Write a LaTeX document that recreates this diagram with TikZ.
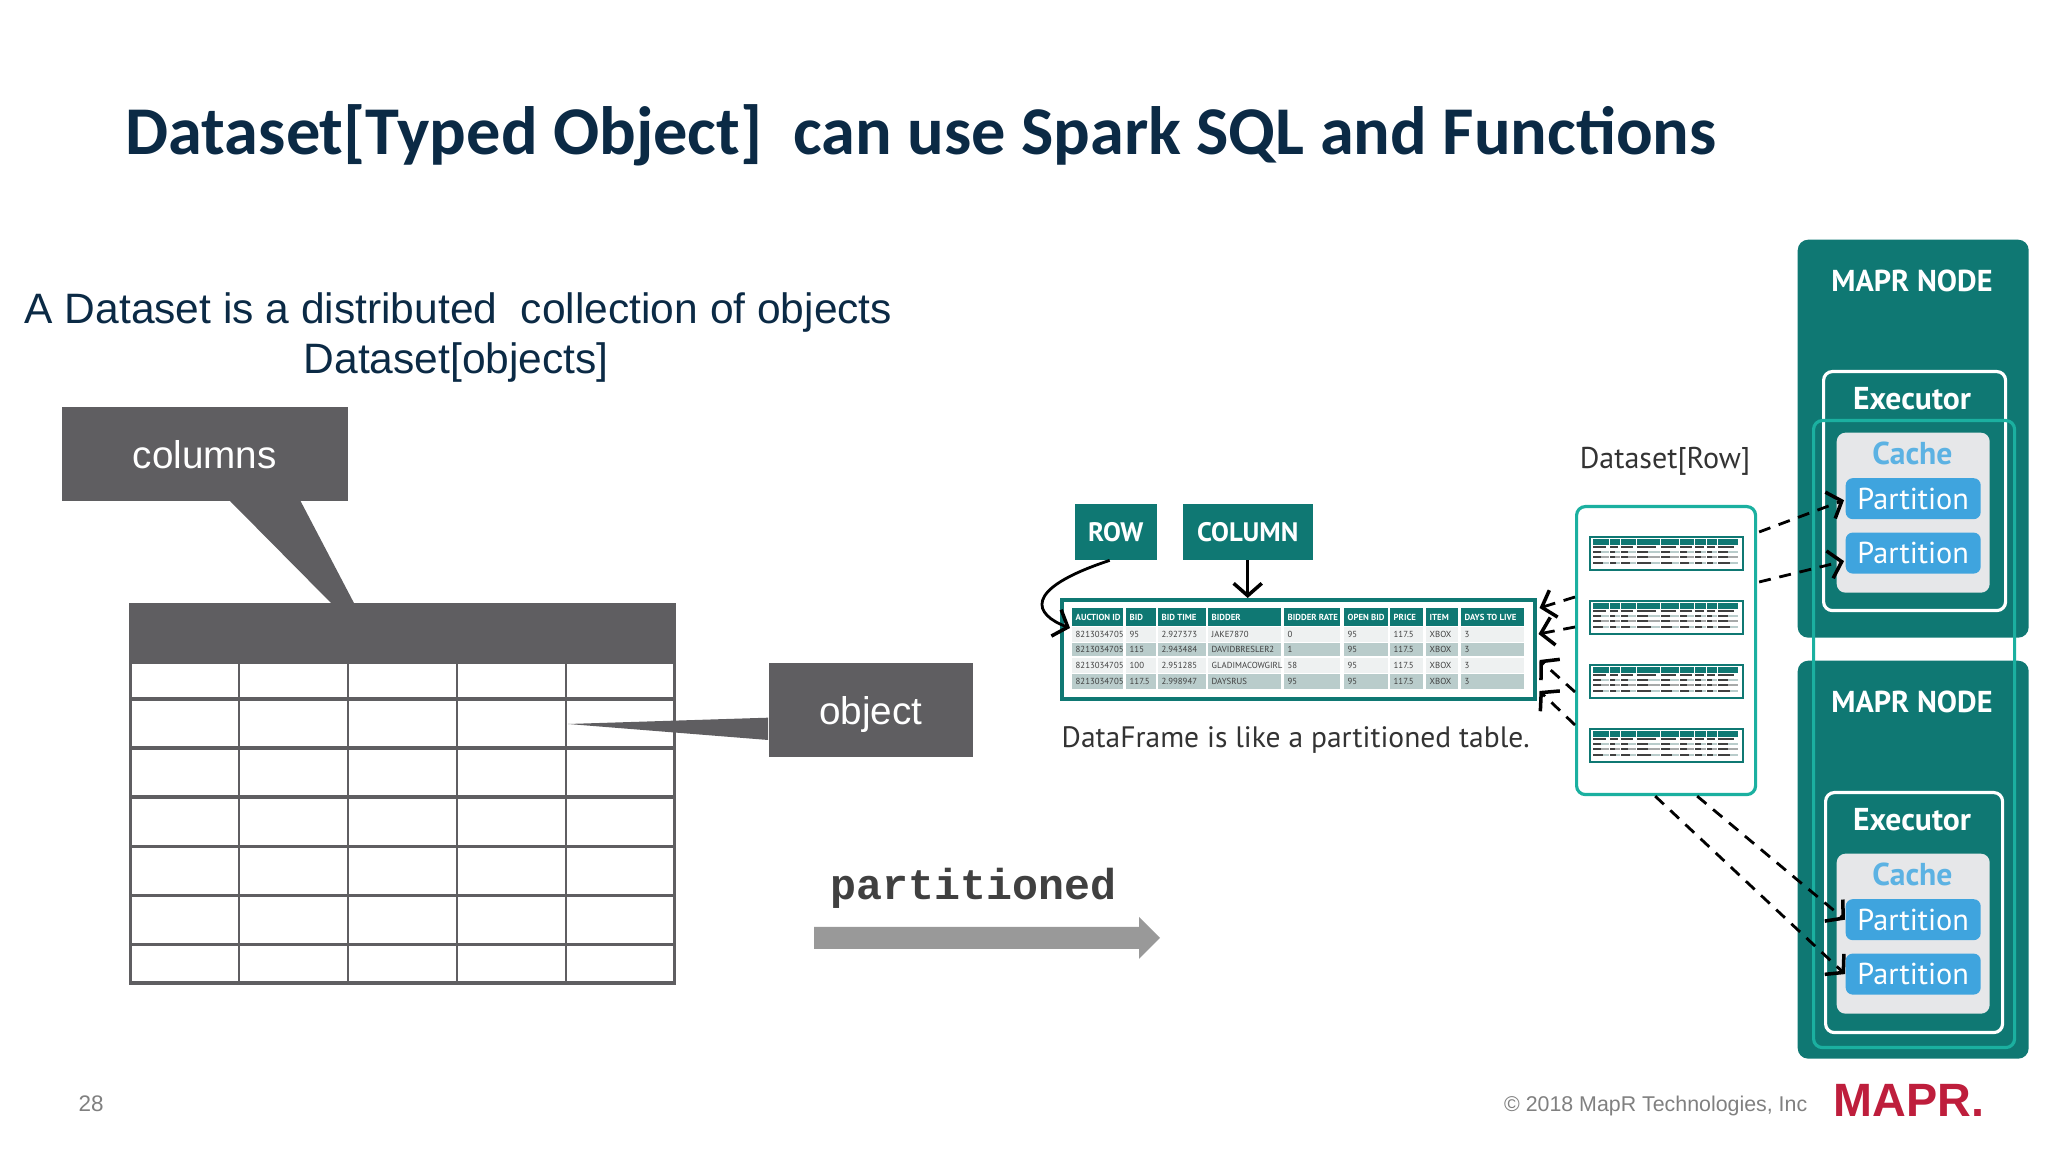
\documentclass[tikz,border=0pt]{standalone}
\usepackage{fontspec}
\setmainfont{Liberation Sans}
\newfontfamily\titlefont{Carlito}
\newfontfamily\dinfont{PT Sans}
\newfontfamily\partfont{Liberation Mono}
\usepackage{tikz}
\usetikzlibrary{arrows.meta, positioning}
\usepackage{xcolor}
\definecolor{navy}{HTML}{0B2A45}
\definecolor{slate}{HTML}{5F5E61}
\definecolor{nodeteal}{HTML}{0F7873}
\definecolor{lightteal}{HTML}{1BB0A0}
\definecolor{cachegray}{HTML}{E6E7E9}
\definecolor{partblue}{HTML}{3FA4DE}
\definecolor{rowlight}{HTML}{EEF1F1}
\definecolor{rowdark}{HTML}{B9CCCB}
\definecolor{mapred}{HTML}{BE1E3C}

\begin{document}
\begin{tikzpicture}[
    x=1cm, y=-1cm,
    callout/.style={rectangle, fill=slate, text=white, inner sep=0pt,
                    anchor=north west, font=\fontsize{11}{13}\selectfont},
    tag/.style={rectangle, fill=nodeteal, text=white, inner sep=0pt,
                minimum height=0.56cm, anchor=north west,
                font=\dinfont\bfseries\fontsize{7.6}{9}\selectfont},
    nodebox/.style={rectangle, fill=nodeteal, rounded corners=3pt, inner sep=0pt,
                    anchor=north west, minimum width=2.31cm},
    execbox/.style={rectangle, draw=white, line width=0.9pt, rounded corners=2.5pt,
                    inner sep=0pt, anchor=north west},
    cachebox/.style={rectangle, fill=cachegray, rounded corners=2.5pt, inner sep=0pt,
                     anchor=north west, minimum width=1.53cm, minimum height=1.60cm},
    partbox/.style={rectangle, fill=partblue, text=white, rounded corners=2pt,
                    inner sep=0pt, minimum width=1.35cm, minimum height=0.41cm,
                    font=\dinfont\fontsize{8.6}{10}\selectfont},
    nodetxt/.style={text=white, font=\dinfont\bfseries\fontsize{8.6}{10}\selectfont},
    cachetxt/.style={text=partblue!85!white, font=\dinfont\bfseries\fontsize{9}{10}\selectfont},
    frame/.style={rectangle, draw=lightteal, line width=0.9pt, rounded corners=2.5pt,
                  inner sep=0pt, anchor=north west},
    dfbox/.style={rectangle, draw=nodeteal, line width=1pt, inner sep=0pt, anchor=north west},
    minibox/.style={rectangle, draw=nodeteal, line width=0.6pt, fill=white, inner sep=0pt,
                    anchor=north west, minimum width=1.53cm, minimum height=0.33cm},
    hdtxt/.style={text=white, inner sep=0pt, anchor=west,
                  font=\dinfont\bfseries\fontsize{2.5}{3}\selectfont},
    celltxt/.style={text=black!75, inner sep=0pt, anchor=west,
                    font=\dinfont\fontsize{2.5}{3}\selectfont},
    arr/.style={-{Straight Barb[length=3.5pt, width=8pt, line width=1pt]}, line width=0.8pt},
    dasharr/.style={arr, dash pattern=on 3.4pt off 2.5pt},
  ]
    \useasboundingbox (0,0) rectangle (20.48,11.53);

    \node[anchor=base west, inner sep=0pt, text=navy,
          font=\titlefont\bfseries\fontsize{19.45}{22}\selectfont] (title) at (1.25,1.55)
      {Dataset[Typed Object]\ \ can use Spark SQL and Functions};
    \node[anchor=base west, inner sep=0pt, text=navy,
          font=\fontsize{12.1}{15}\selectfont] (intro) at (0.24,3.24)
      {A Dataset is a distributed\ \ collection of objects};
    \node[anchor=base west, inner sep=0pt, text=navy,
          font=\fontsize{12.1}{15}\selectfont] (introb) at (3.03,3.74)
      {Dataset[objects]};

    % Grid with its two callouts
    \fill[slate] (1.295,6.05) rectangle (6.755,6.64);
    \draw[slate, line width=0.9pt] (1.305,6.05) rectangle (6.745,9.83);
    \foreach \gx in {2.39,3.48,4.57,5.66}
      \draw[slate, line width=0.8pt] (\gx,6.64) -- (\gx,9.83);
    \foreach \gy in {6.99,7.48,7.97,8.465,8.955,9.445}
      \draw[slate, line width=0.9pt] (1.305,\gy) -- (6.745,\gy);

    \fill[slate] (2.29,5.00) -- (3.00,5.00) -- (3.55,6.05) -- (3.33,6.05) -- cycle;
    \node[callout, minimum width=2.86cm, minimum height=0.935cm] (columns) at (0.61,4.065)
      {\raisebox{-0.145cm}[0pt][0pt]{columns}};
    \fill[slate] (7.68,7.177) -- (5.68,7.24) -- (7.68,7.40) -- cycle;
    \node[callout, minimum width=2.04cm, minimum height=0.935cm] (object) at (7.68,6.627)
      {\raisebox{-0.145cm}[0pt][0pt]{object}};

    \node[anchor=base west, inner sep=0pt, text=black!75,
          font=\partfont\bfseries\fontsize{12.3}{14}\selectfont] (parted) at (8.30,9.00) {partitioned};
    \fill[black!40] (8.14,9.27) -- (11.39,9.27) -- (11.39,9.17) -- (11.60,9.38)
      -- (11.39,9.59) -- (11.39,9.49) -- (8.14,9.49) -- cycle;

    % DataFrame table
    \node[tag, minimum width=0.82cm] (row) at (10.74,5.03) {ROW};
    \node[tag, minimum width=1.30cm] (column) at (11.82,5.03) {COLUMN};
    \node[dfbox, minimum width=4.73cm, minimum height=0.99cm] (df) at (10.60,5.98) {};
    \foreach \cx/\cw/\hd/\ra/\rb/\rc/\rd [count=\ci] in {
        10.72/0.507/AUCTION ID/8213034705/8213034705/8213034705/8213034705,
        11.26/0.297/BID/95/115/100/117.5,
        11.58/0.475/BID TIME/2.927373/2.943484/2.951285/2.998947,
        12.08/0.732/BIDDER/JAKE7870/DAVIDBRESLER2/GLADIMACOWGIRL/DAYSRUS,
        12.84/0.564/BIDDER RATE/0/1/58/95,
        13.44/0.435/OPEN BID/95/95/95/95,
        13.90/0.332/PRICE/117.5/117.5/117.5/117.5,
        14.26/0.319/ITEM/XBOX/XBOX/XBOX/XBOX,
        14.61/0.629/DAYS TO LIVE/3/3/3/3} {
      \fill[nodeteal] (\cx,6.083) rectangle ++(\cw,0.174);
      \fill[rowlight] (\cx,6.267) rectangle ++(\cw,0.15);
      \fill[rowdark]  (\cx,6.43) rectangle ++(\cw,0.127);
      \fill[rowlight] (\cx,6.58) rectangle ++(\cw,0.147);
      \fill[rowdark]  (\cx,6.743) rectangle ++(\cw,0.147);
      \node[hdtxt] (hd\ci) at (\cx+0.03,6.17) {\hd};
      \node[celltxt] (ra\ci) at (\cx+0.03,6.34) {\ra};
      \node[celltxt] (rb\ci) at (\cx+0.03,6.495) {\rb};
      \node[celltxt] (rc\ci) at (\cx+0.03,6.65) {\rc};
      \node[celltxt] (rd\ci) at (\cx+0.03,6.815) {\rd};
    }
    \node[anchor=base west, inner sep=0pt, text=black!80,
          font=\dinfont\fontsize{8.4}{10}\selectfont] (dfnote) at (10.61,7.48)
      {DataFrame is like a partitioned table.};

    % Dataset with small tables
    \node[anchor=base, inner sep=0pt, text=black!80,
          font=\dinfont\fontsize{8.55}{10}\selectfont] (dsrow) at (16.65,4.69) {Dataset[Row]};
    \node[frame, fill=white, minimum width=1.79cm, minimum height=2.88cm] (dset) at (15.75,5.05) {};
    \foreach \ty [count=\ti] in {5.36,6.00,6.64,7.28} {
      \node[minibox] (mini\ti) at (15.89,\ty) {};
      \begin{scope}[shift={(12.477,\ty-1.973)}, x=0.322cm, y=-0.33cm]
        \foreach \cx/\cw in {10.72/0.507,11.26/0.297,11.58/0.475,12.08/0.732,12.84/0.564,
                             13.44/0.435,13.90/0.332,14.26/0.319,14.61/0.629} {
          \fill[nodeteal] (\cx,6.083) rectangle ++(\cw,0.174);
          \fill[black!75] (\cx,6.29) rectangle ++(0.8*\cw,0.05);
          \fill[rowdark] (\cx,6.44) rectangle ++(\cw,0.05);
          \fill[black!75] (\cx,6.44) rectangle ++(0.5*\cw,0.05);
          \fill[rowlight!70!black] (\cx,6.60) rectangle ++(\cw,0.05);
          \fill[black!75] (\cx,6.60) rectangle ++(0.5*\cw,0.05);
          \fill[rowdark] (\cx,6.76) rectangle ++(\cw,0.06);
          \fill[black!75] (\cx,6.76) rectangle ++(0.6*\cw,0.06);
        }
      \end{scope}
    }

    % MAPR nodes
    \node[nodebox, minimum height=3.98cm] (nodea) at (17.97,2.39) {};
    \node[nodetxt] (nodealbl) at (19.12,2.81) {MAPR NODE};
    \node[execbox, minimum width=1.82cm, minimum height=2.39cm] (execa) at (18.22,3.70) {};
    \node[nodetxt, font=\dinfont\bfseries\fontsize{9}{10}\selectfont] (execalbl) at (19.12,3.99) {Executor};
    \node[cachebox] (cachea) at (18.36,4.32) {};
    \node[cachetxt] (cachealbl) at (19.125,4.53) {Cache};
    \node[partbox, anchor=north west] (parta) at (18.45,4.775) {Partition};
    \node[partbox, below=0.12cm of parta] (partb) {Partition};

    \node[nodebox, minimum height=3.98cm] (nodeb) at (17.97,6.60) {};
    \node[nodetxt] (nodeblbl) at (19.12,7.02) {MAPR NODE};
    \node[execbox, minimum width=1.77cm, minimum height=2.40cm] (execb) at (18.24,7.91) {};
    \node[nodetxt, font=\dinfont\bfseries\fontsize{9}{10}\selectfont] (execblbl) at (19.12,8.20) {Executor};
    \node[cachebox] (cacheb) at (18.36,8.53) {};
    \node[cachetxt] (cacheblbl) at (19.125,8.74) {Cache};
    \node[partbox, anchor=north west] (partc) at (18.45,8.985) {Partition};
    \node[partbox, below=0.12cm of partc] (partd) {Partition};

    \node[frame, minimum width=2.01cm, minimum height=6.27cm] (rddframe) at (18.12,4.19) {};

    % Arrows
    \draw[arr] ([xshift=-0.06cm]row.south) .. controls (10.20,5.90) and (10.35,6.15) .. ([shift={(0.10,0.30)}]df.north west);
    \draw[arr] (column.south) -- (column.south |- df.north);

    \draw[dasharr] ([shift={(0.02,0.27)}]dset.north east) -- ([shift={(-0.01,0.015)}]parta.west);
    \draw[dasharr] ([shift={(0.02,0.77)}]dset.north east) -- ([shift={(-0.01,0.08)}]partb.west);
    \draw[dasharr] ([xshift=-0.60cm]dset.south east) -- (partc.west);
    \draw[dasharr] ([xshift=-1.02cm]dset.south east) -- (partd.west);

    \draw[dasharr] ([shift={(0,0.92)}]dset.north west) -- ([shift={(0.03,0.10)}]df.north east);
    \draw[dasharr] ([shift={(0,1.22)}]dset.north west) -- ([shift={(0.02,0.36)}]df.north east);
    \draw[dasharr] ([shift={(0,1.87)}]dset.north west) -- ([shift={(0.03,0.62)}]df.north east);
    \draw[dasharr] ([shift={(0,2.20)}]dset.north west) -- ([shift={(0.03,0.93)}]df.north east);

    % Footer
    \node[anchor=base west, inner sep=0pt, text=black!50, font=\fontsize{6.4}{8}\selectfont] (pagenum) at (0.78,11.12) {28};
    \node[anchor=base east, inner sep=0pt, text=black!50, font=\fontsize{6.08}{8}\selectfont] (copyr) at (18.08,11.12) {© 2018 MapR Technologies, Inc};
    \node[anchor=base west, inner sep=0pt, text=mapred, font=\bfseries\fontsize{13.3}{15}\selectfont] (logo) at (18.33,11.17) {MAPR.};
  \end{tikzpicture}
\end{document}
